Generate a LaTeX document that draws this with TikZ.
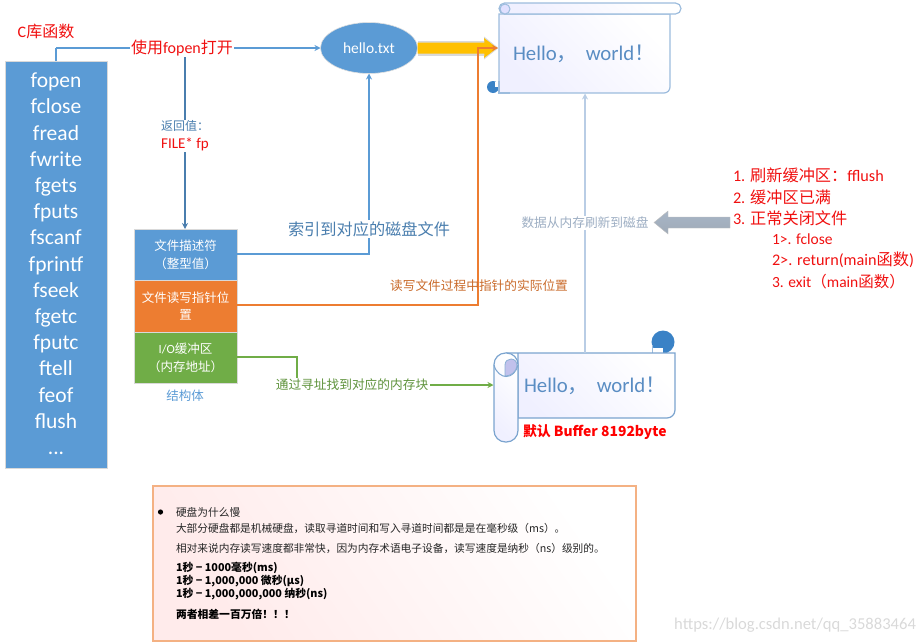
\documentclass[tikz,border=0pt]{standalone}
\usepackage{fontspec}
\setmainfont{Carlito}
\newfontfamily\cjk{Noto Sans CJK SC}
\newcommand{\zz}[1]{{\cjk #1}}
\usetikzlibrary{arrows.meta,shapes.geometric,calc}
\definecolor{bblue}{HTML}{5B9BD5}
\definecolor{dblue}{HTML}{4A7EAE}
\definecolor{borange}{HTML}{ED7D31}
\definecolor{bgreen}{HTML}{70AD47}
\definecolor{lblue}{HTML}{B9CDE5}
\definecolor{sblue}{HTML}{9CBCDD}
\definecolor{tblue}{HTML}{5A8DC3}
\definecolor{cblue}{HTML}{3A82C6}
\definecolor{redt}{HTML}{F01010}
\definecolor{bbar}{HTML}{FFC000}
\tikzset{
  x=1pt,y=-1pt,
  every node/.style={inner sep=0pt,outer sep=0pt},
  structbox/.style={draw=black!15,line width=.8pt,text=white,minimum width=103pt,minimum height=51.5pt,align=center,font=\fontsize{12.5}{17.5}\selectfont},
  lab/.style={fill=white,inner xsep=1.5pt,inner ysep=1pt},
  conn/.style={line width=1.5pt,-{Stealth[length=6pt,width=6pt]}},
  plain/.style={line width=1.5pt},
  scrollbody/.style={draw=sblue,line width=1.2pt,left color=blue!6!white,right color=white,shading angle=135},
  hellot/.style={text=tblue,font=\fontsize{20.8}{24}\selectfont,anchor=west},
  redl/.style={text=redt,anchor=west},
  memo/.style={anchor=west,font=\fontsize{10.7}{12}\selectfont,text=black!85},
  memob/.style={anchor=west,font=\fontsize{10.8}{12}\selectfont\bfseries,text=black}
}
\begin{document}
\begin{tikzpicture}
\useasboundingbox (0,0) rectangle (924,643);
% top scroll
\draw[scrollbody] (499,14) -- (499,93) [rounded corners=6pt] -- (670,93) [sharp corners] -- (670,14) -- cycle;
\draw[scrollbody,rounded corners=5.5pt] (499,3) rectangle (681,14);
\draw[draw=sblue,line width=1pt,fill=blue!12!white] (505,9) circle[radius=5];
\fill[cblue] (493,87) circle[radius=6];
\fill[white] (495,82) rectangle (498.4,86.5);
\draw[sblue,line width=1.2pt] (499,81) -- (499,93) -- (510,93);
\node[hellot] (hello1) at (513,54) {Hello\zz{，} \,world\zz{！}};
% bottom scroll
\fill[cblue] (663,342) circle[radius=11.5];
\fill[white] (652,347.5) rectangle (663,353);
\draw[sblue,line width=1pt] (652,345) -- (652,353);
\draw[scrollbody,draw=tblue!80] (506,353) -- (675,353) [rounded corners=8pt] -- (675,418) [sharp corners] -- (518,418) -- (518,353) -- cycle;
\draw[scrollbody,draw=tblue!80,rounded corners=11.5pt] (494,353) rectangle (518,442);
\draw[draw=tblue!80,line width=1pt] (494,365) .. controls (496,373) and (502,376.5) .. (506,376.5) .. controls (512,376.5) and (516,372) .. (518,365);
\draw[draw=tblue!70,line width=.8pt,fill=blue!20!white!85!gray] (505,376) -- (505,365) .. controls (505,361) and (508,359) .. (511,359) .. controls (515,359) and (517,362) .. (517,366) .. controls (516,372) and (511,376) .. (505,376);
\node[hellot] (hello2) at (524,386) {Hello\zz{，} \,world\zz{！}};
\node[anchor=west,text=red,font=\cjk\fontsize{13.9}{15}\selectfont\bfseries] (buf) at (523,432) {默认 Buffer 8192byte};

% list box
\node[draw=black!15,line width=.8pt,fill=bblue,text=white,minimum width=102pt,minimum height=407pt,anchor=north west,align=center] (funcs) at (5,61) {};
\node[text=white,align=center,anchor=north,font=\fontsize{21.5}{26.2}\selectfont] (funclist) at (56,73) {fopen\\fclose\\fread\\fwrite\\fgets\\fputs\\fscanf\\fprintf\\fseek\\fgetc\\fputc\\ftell\\feof\\flush\\...};
\node[text=redt,font=\fontsize{16}{18}\selectfont] (clib) at (46,31) {C\zz{库函数}};

% struct
\node[structbox,fill=bblue,anchor=north west] (fd) at (134,229) {\zz{文件描述符}\\\zz{（整型值）}};
\node[structbox,fill=borange,anchor=north west] (ptr) at (134,280.5) {\zz{文件读写指针位}\\\zz{置}};
\node[structbox,fill=bgreen,anchor=north west] (io) at (134,332) {I/O\zz{缓冲区}\\\zz{（内存地址）}};
\node[text=bblue,font=\fontsize{12.5}{15}\selectfont] (st) at (185,396) {\zz{结构体}};

% ellipse
\node[ellipse,fill=bblue,draw=black!12,line width=.6pt,minimum width=97pt,minimum height=51pt,text=white,font=\fontsize{15.5}{16}\selectfont] (file) at (369,48) {hello.txt};

% yellow block arrow
\coordinate (ya) at (417.5,48);
\coordinate (yb) at (498.5,48);
\fill[black!15] ($(ya)+(0,-7.5)$) rectangle ($(yb)+(-14,7.5)$);
\fill[black!15] (484,36.5) -- (498.5,48) -- (484,59.5) -- cycle;
\fill[bbar] ($(ya)+(0,-5.5)$) -- ($(yb)+(-14,-5.5)$) -- (484,38) -- (497,48) -- (484,58) -- ($(yb)+(-14,5.5)$) -- ($(ya)+(0,5.5)$) -- cycle;

% connectors
\coordinate (top) at (56,48);
\coordinate (branch) at (185,48);
\coordinate (bl) at (369,254);
\coordinate (ol) at (478,305);
\coordinate (ot) at (478,48);
\coordinate (okr) at (498,48);
\coordinate (g1) at (297,357);
\coordinate (g2) at (297,385);
\coordinate (gr) at (493.5,385);
\coordinate (lb) at (585,353);
\coordinate (lt) at (585,93.5);
\draw[plain,bblue] (funcs.north-|top) -- (top);
\draw[conn,bblue] (top) -- (file.west);
\draw[conn,dblue] (branch) -- (fd.north-|branch);
\draw[conn,bblue] (fd.east|-bl) -- (bl) -- (file.south);
\draw[conn,borange] (ptr.east|-ol) -- (ol) -- (ot) -- (okr);
\draw[conn,bgreen] (io.east|-g1) -- (g1) -- (g2) -- (gr);
\draw[conn,lblue] (lb) -- (lt);

% fat arrow
\path[draw=black!25,line width=.4pt,top color=lblue!70!gray,bottom color=lblue!55!gray,shading angle=0] (730,217) -- (668,217) -- (668,211) -- (654,222.5) -- (668,234) -- (668,228) -- (730,228) -- cycle;

% labels
\node[lab,text=redt,font=\fontsize{16}{18}\selectfont] (useopen) at (182,48) {\zz{使用}fopen\zz{打开}};
\node[lab,align=center,text=dblue,font=\fontsize{12}{19}\selectfont] (ret) at (185,136) {\zz{返回值：}\\[-1pt]\textcolor{redt}{\fontsize{15}{18}\selectfont FILE* fp}};
\node[lab,text=dblue,font=\fontsize{16.2}{18}\selectfont] (idx) at (369,229) {\zz{索引到对应的磁盘文件}};
\node[text=borange!85!black,font=\fontsize{12.7}{14}\selectfont] (rw) at (479,286) {\zz{读写文件过程中指针的实际位置}};
\node[lab,text=bgreen!85!black,font=\fontsize{12.7}{14}\selectfont] (addr) at (352,385) {\zz{通过寻址找到对应的内存块}};
\node[lab,text=lblue!85!black,font=\fontsize{12.7}{14}\selectfont] (fl) at (585,223) {\zz{数据从内存刷新到磁盘}};

% red list
\node[redl,font=\fontsize{16.2}{17}\selectfont] (r1) at (733,175) {1. \zz{刷新缓冲区：}fflush};
\node[redl,font=\fontsize{16.2}{17}\selectfont] (r2) at (733,197) {2. \zz{缓冲区已满}};
\node[redl,font=\fontsize{16.2}{17}\selectfont] (r3) at (733,218) {3. \zz{正常关闭文件}};
\node[redl,font=\fontsize{15.5}{16}\selectfont] (r4) at (772,239) {1\textgreater. fclose};
\node[redl,font=\fontsize{16.2}{16}\selectfont] (r5) at (772,260) {2\textgreater. return(main\zz{函数})};
\node[redl,font=\fontsize{15.5}{16}\selectfont] (r6) at (772,282) {3. exit\zz{（}main\zz{函数）}};

% memo box
\node[draw=borange!60!white,line width=1.2pt,left color=red!8!white,middle color=white,right color=white,shading angle=125,minimum width=483pt,minimum height=155pt,anchor=north west] (memobox) at (153,486) {};
\fill[black] (160.5,512) circle[radius=2.6];
\node[memo] (m1) at (176,512) {\cjk 硬盘为什么慢};
\node[memo] (m2) at (176,528) {\cjk 大部分硬盘都是机械硬盘，读取寻道时间和写入寻道时间都是是在毫秒级（ms）。};
\node[memo] (m3) at (176,548) {\cjk 相对来说内存读写速度都非常快，因为内存术语电子设备，读写速度是纳秒（ns）级别的。};
\node[memob] (m4) at (176,568) {\cjk 1秒 − 1000毫秒(ms)};
\node[memob] (m5) at (176,581) {\cjk 1秒 − 1,000,000 微秒(μs)};
\node[memob] (m6) at (176,594) {\cjk 1秒 − 1,000,000,000 纳秒(ns)};
\node[memob] (m7) at (176,614) {\cjk 两者相差一百万倍！！！};

% watermark
\node[anchor=east,text=black!15,font=\fontsize{16.6}{18}\selectfont] (wm) at (916,625) {https://blog.csdn.net/qq\_35883464};
\end{tikzpicture}
\end{document}
